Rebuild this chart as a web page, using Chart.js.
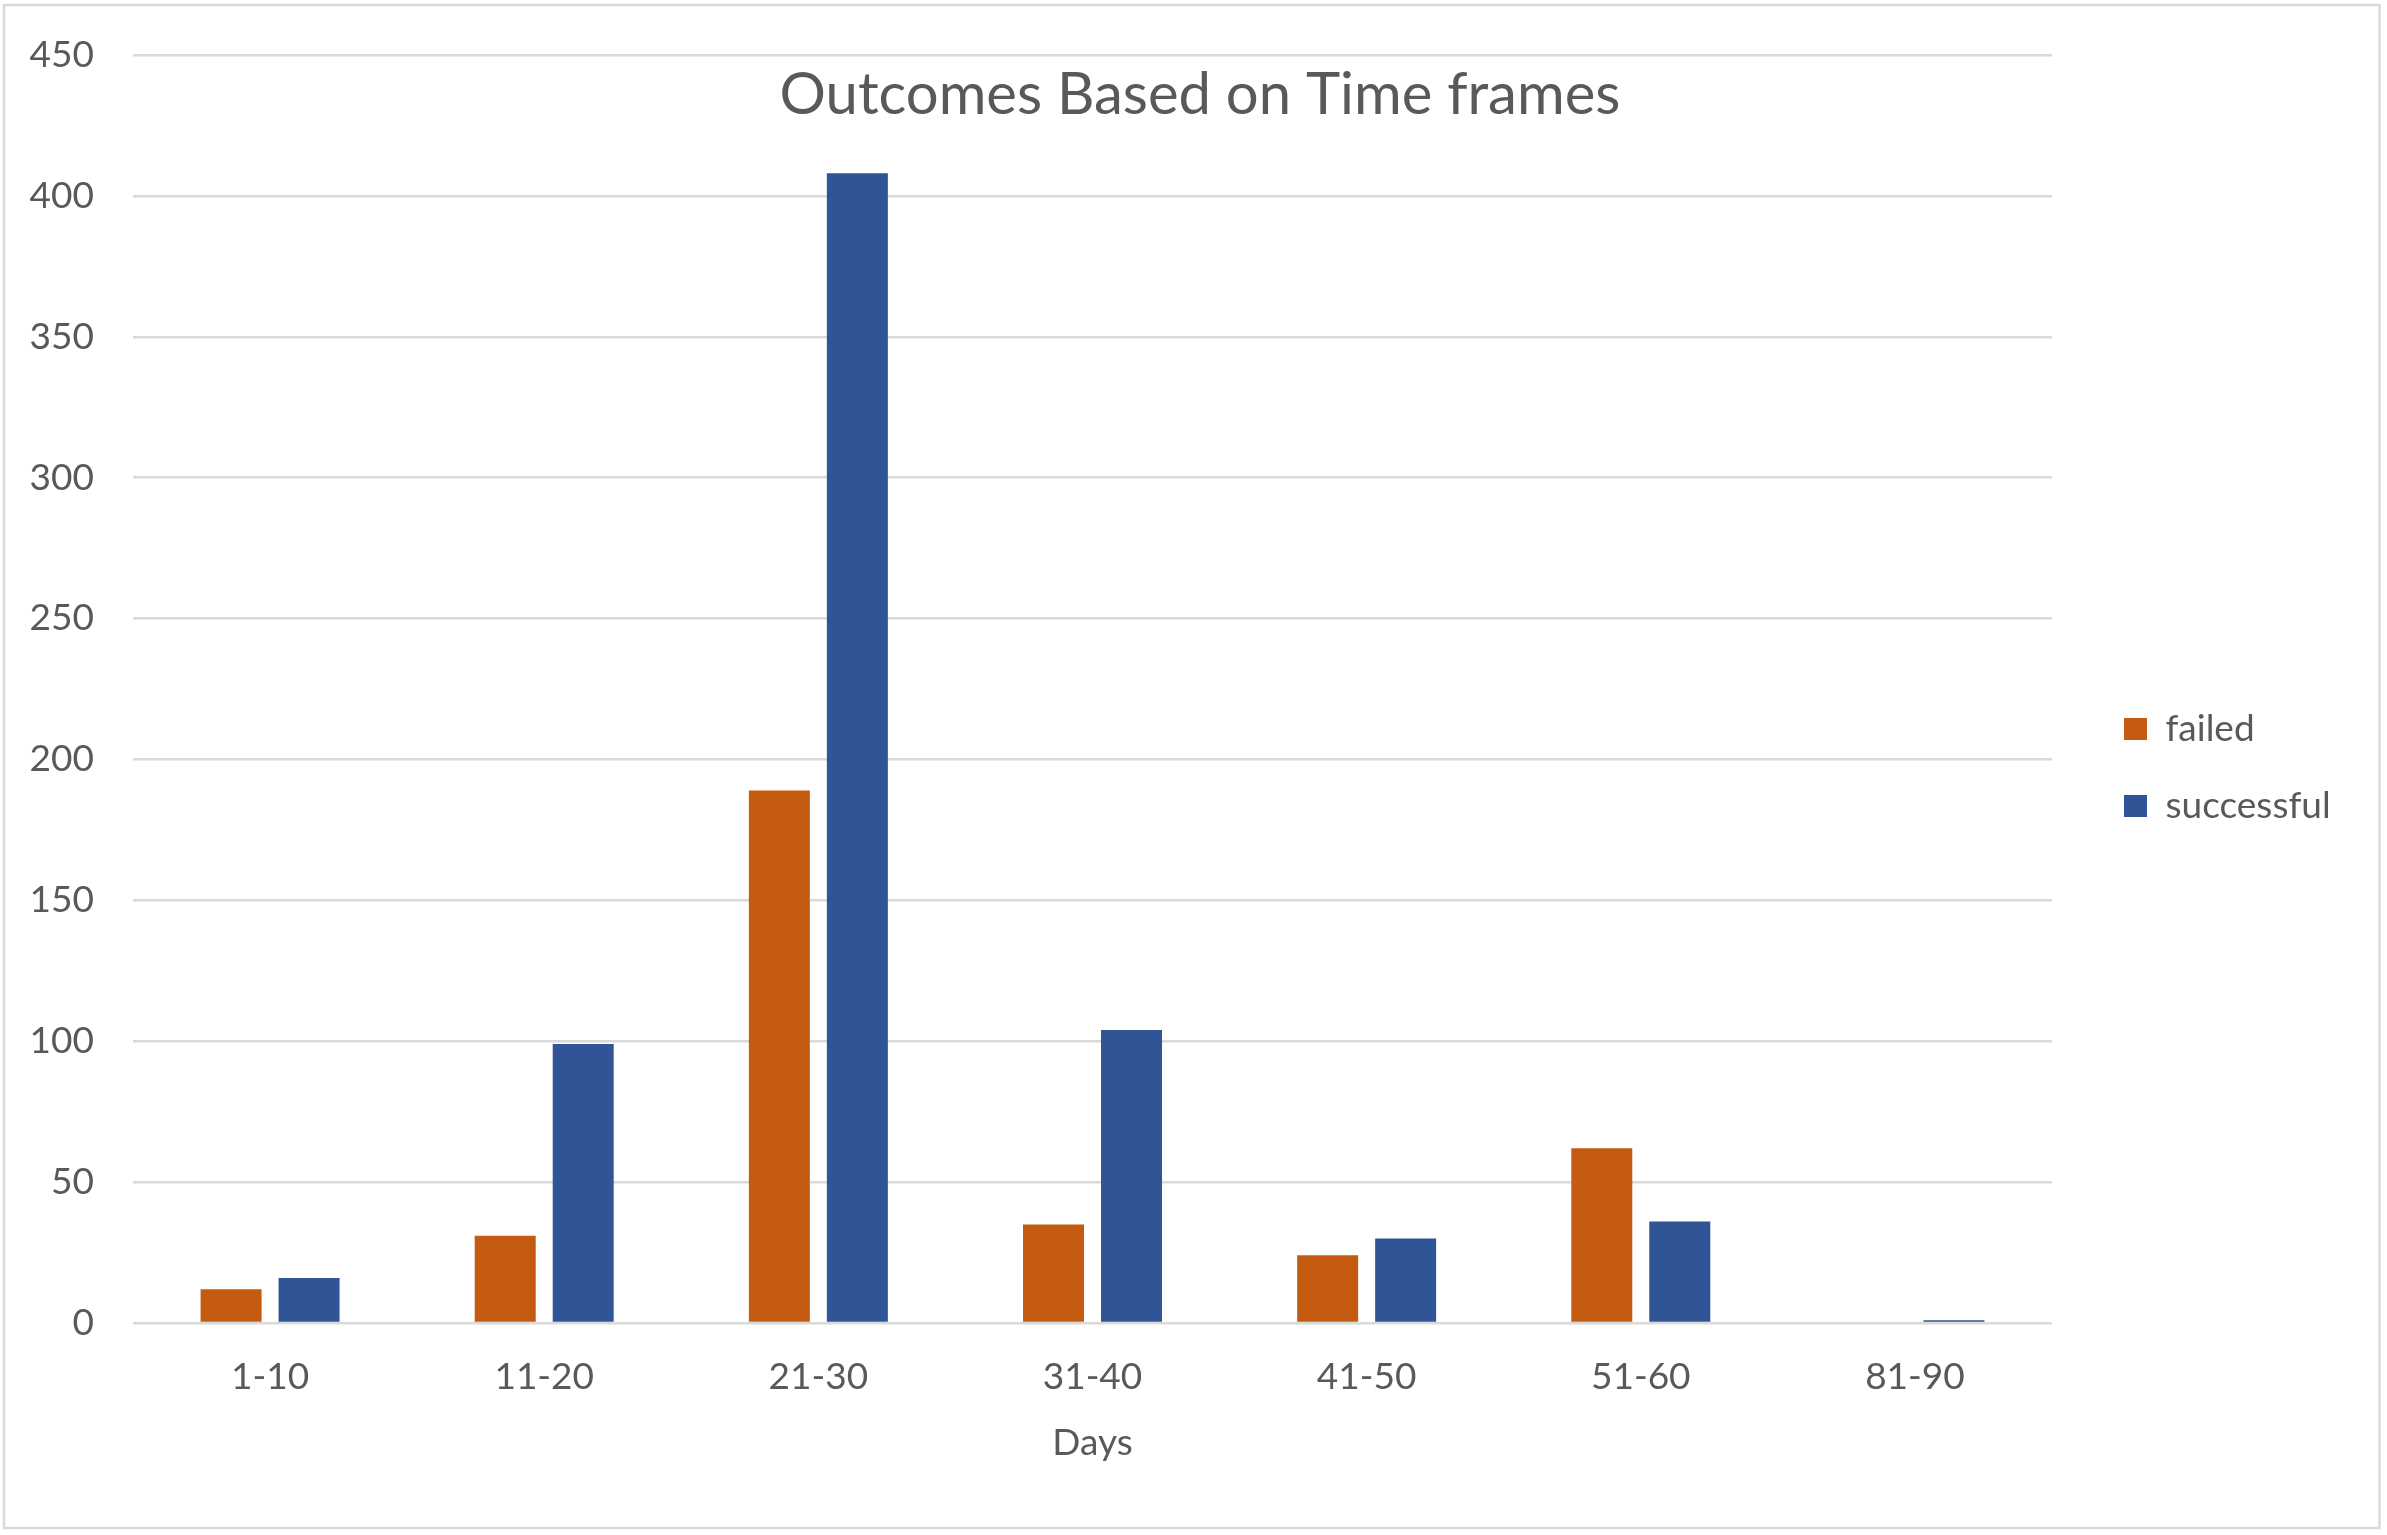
<!DOCTYPE html>
<html>
<head>
<meta charset="utf-8">
<title>Outcomes Based on Time frames</title>
<script src="https://cdn.jsdelivr.net/npm/chart.js@4.4.1/dist/chart.umd.min.js"></script>
<style>
    html, body { margin: 0; padding: 0; background: #fff; }
    #chart { display: block; }
</style>
</head>
<body>
<canvas id="chart" width="2387" height="1535"></canvas>
<script>
const categories = ['1-10', '11-20', '21-30', '31-40', '41-50', '51-60', '81-90'];
const failed = [12, 31, 189, 35, 24, 62, 0];
const successful = [16, 99, 408, 104, 30, 36, 1];
const yTicks = [0, 50, 100, 150, 200, 250, 300, 350, 400, 450];

const TITLE = 'Outcomes Based on Time frames';
const FONT = 'Lato, "Open Sans", sans-serif';
const TEXT = '#595959';
const GRID = '#d9d9d9';

const LEGEND_FONT = 37;
const LEGEND_PAD = 40;
const LEGEND_BOX = 23;
const LEGEND_X = 2084; // left edge of the legend block

// legend width is padding + box + gap + widest label + 10 (chart.js rule),
// so work out how much right padding puts the legend where we want it
function legendRightPadding() {
    const ctx = document.createElement('canvas').getContext('2d');
    ctx.font = `${LEGEND_FONT}px ${FONT}`;
    const widest = Math.max(...['failed', 'successful'].map((t) => ctx.measureText(t).width));
    const width = LEGEND_PAD + LEGEND_BOX + LEGEND_FONT / 2 + widest + 10;
    return Math.max(0, 2387 - LEGEND_X - width);
}

// chart title sits inside the plot, like Excel does it
const innerTitle = {
    id: 'innerTitle',
    afterDraw(chart) {
        const { ctx } = chart;
        ctx.save();
        ctx.font = `58px ${FONT}`;
        ctx.fillStyle = TEXT;
        ctx.textAlign = 'center';
        ctx.textBaseline = 'alphabetic';
        ctx.fillText(TITLE, 1200, 114);
        ctx.restore();
    },
};

const frame = {
    id: 'frame',
    beforeDraw(chart) {
        const { ctx } = chart;
        ctx.save();
        ctx.fillStyle = '#fff';
        ctx.fillRect(0, 0, chart.width, chart.height);
        ctx.strokeStyle = GRID;
        ctx.lineWidth = 2.5;
        ctx.strokeRect(4, 5, 2375.5, 1523);
        ctx.restore();
    },
};

new Chart(document.getElementById('chart'), {
    type: 'bar',
    data: {
        labels: categories,
        datasets: [
            {
                label: 'failed',
                data: failed,
                backgroundColor: '#C55A11',
                categoryPercentage: 0.569,
                barPercentage: 0.782,
            },
            {
                label: 'successful',
                data: successful,
                backgroundColor: '#2F5597',
                categoryPercentage: 0.569,
                barPercentage: 0.782,
            },
        ],
    },
    options: {
        responsive: false,
        devicePixelRatio: 1,
        animation: false,
        layout: {
            padding: { top: 55, bottom: 55, left: 0, right: legendRightPadding() },
        },
        scales: {
            x: {
                grid: { display: false, drawTicks: false },
                border: { display: false },
                ticks: {
                    padding: 32,
                    color: TEXT,
                    font: { family: FONT, size: 37 },
                },
                title: {
                    display: true,
                    text: 'Days',
                    color: TEXT,
                    font: { family: FONT, size: 37 },
                    padding: { top: 0, bottom: 15 },
                },
                afterFit: (scale) => { scale.height = 157; },
            },
            y: {
                min: 0,
                max: 450,
                afterBuildTicks: (scale) => {
                    scale.ticks = yTicks.map((value) => ({ value }));
                },
                grid: { color: GRID, lineWidth: 2.5, drawTicks: false },
                border: { display: false },
                ticks: {
                    padding: 39,
                    color: TEXT,
                    font: { family: FONT, size: 37 },
                },
                afterFit: (scale) => {
                    scale.width = 133;
                    // tick padding would otherwise push the plot top down
                    scale.paddingTop = 20;
                    scale.paddingBottom = 20;
                },
            },
            // empty axis, only keeps the legend away from the plot
            spacer: {
                type: 'linear',
                position: 'right',
                grid: { display: false, drawTicks: false },
                border: { display: false },
                ticks: { display: false },
                afterFit: (scale) => { scale.width = 32; },
            },
        },
        plugins: {
            legend: {
                position: 'right',
                labels: {
                    boxWidth: LEGEND_BOX,
                    boxHeight: 22,
                    padding: LEGEND_PAD,
                    color: TEXT,
                    font: { family: FONT, size: LEGEND_FONT },
                },
            },
            tooltip: { enabled: false },
        },
    },
    plugins: [frame, innerTitle],
});
</script>
</body>
</html>
